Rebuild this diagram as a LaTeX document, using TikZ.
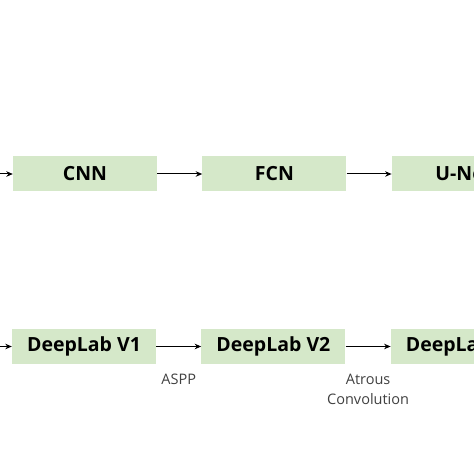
\documentclass[tikz,border=0pt]{standalone}
\usepackage{fontspec}
\setmainfont{Open Sans}
\usetikzlibrary{arrows.meta,positioning}
\definecolor{boxgreen}{HTML}{D5E8C9}
\definecolor{labgray}{HTML}{404040}

\begin{document}
\begin{tikzpicture}[
  x=1pt, y=1pt,
  node distance=45pt,
  stage/.style={fill=boxgreen, minimum width=144pt, minimum height=35pt,
                inner sep=0pt, font=\fontsize{19.5}{23}\selectfont\bfseries},
  note/.style={text=labgray, align=center,
               font=\fontsize{14.5}{20}\selectfont},
  arr/.style={-{Stealth[length=6.5pt,width=5.5pt]}, line width=1pt}
]
  \useasboundingbox (0,0) rectangle (474,474);
  \fill[white] (0,0) rectangle (474,474);
  \clip (0,0) rectangle (474,474);

  % first row
  \node[stage] (cnn) at (85,300) {CNN};
  \node[stage, right=of cnn] (fcn) {FCN};
  \node[stage, right=of fcn] (unet) {U-Net};
  \coordinate (in1) at (-2,300);

  % second row
  \node[stage] (dl1) at (84,127.5) {DeepLab V1};
  \node[stage, right=of dl1] (dl2) {DeepLab V2};
  \node[stage, right=of dl2] (dl3) {DeepLab V3};
  \coordinate (in2) at (-2,127.5);

  \draw[arr] (in1) -- (cnn);
  \draw[arr] (cnn) -- (fcn);
  \draw[arr] (fcn) -- (unet);

  \draw[arr] (in2) -- (dl1);
  \draw[arr] (dl1) -- node[note, below=24pt]{ASPP} (dl2);
  \draw[arr] (dl2) -- node[note, below=24pt, anchor=north]{Atrous\\Convolution} (dl3);
\end{tikzpicture}
\end{document}
